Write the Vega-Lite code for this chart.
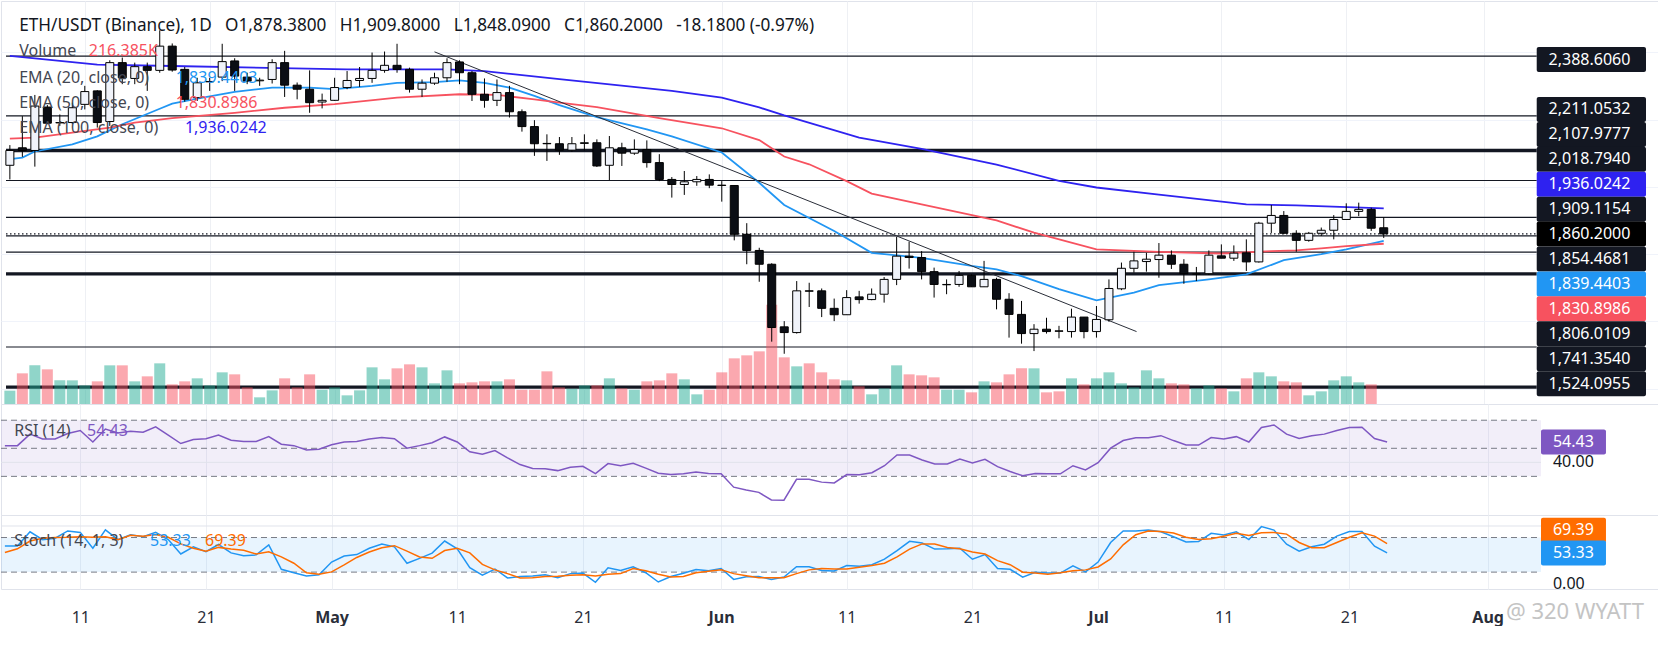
{
  "$schema": "https://vega.github.io/schema/vega-lite/v6.json",
  "background": "white",
  "padding": 0,
  "spacing": 0,
  "bounds": "flush",
  "resolve": {"scale": {"x": "independent", "y": "independent"}},
  "config": {
    "font": "Noto Sans",
    "view": {"stroke": "#E0E3EB"},
    "axis": {"gridColor": "#EEF0F4", "domain": false, "ticks": false, "title": null, "minExtent": 0}
  },
  "datasets": {
    "bars": [
      {"t":"2023-04-05","o":2064,"h":2124,"l":2022,"c":2108,"v":350,"rsi":51.9,"sk":65.4,"sd":53.9},
      {"t":"2023-04-06","o":2116,"h":2210,"l":2089,"c":2108,"v":523,"rsi":51.9,"sk":65.4,"sd":60.4},
      {"t":"2023-04-07","o":2108,"h":2273,"l":2060,"c":2240,"v":603,"rsi":60.1,"sk":89.9,"sd":73.9},
      {"t":"2023-04-08","o":2237,"h":2243,"l":2186,"c":2189,"v":563,"rsi":56.6,"sk":76.4,"sd":78.9},
      {"t":"2023-04-09","o":2190,"h":2215,"l":2181,"c":2191,"v":453,"rsi":56.6,"sk":78.9,"sd":79.9},
      {"t":"2023-04-10","o":2191,"h":2250,"l":2186,"c":2235,"v":453,"rsi":60.5,"sk":91.4,"sd":80.4},
      {"t":"2023-04-11","o":2245,"h":2300,"l":2230,"c":2283,"v":403,"rsi":62.7,"sk":88.9,"sd":81.4},
      {"t":"2023-04-12","o":2285,"h":2287,"l":2176,"c":2191,"v":443,"rsi":54.5,"sk":61.4,"sd":80.4},
      {"t":"2023-04-13","o":2194,"h":2376,"l":2181,"c":2369,"v":603,"rsi":63.7,"sk":93.4,"sd":81.4},
      {"t":"2023-04-14","o":2369,"h":2384,"l":2305,"c":2324,"v":603,"rsi":60.9,"sk":76.4,"sd":76.4},
      {"t":"2023-04-15","o":2322,"h":2369,"l":2305,"c":2357,"v":443,"rsi":62.2,"sk":84.9,"sd":83.9},
      {"t":"2023-04-16","o":2357,"h":2369,"l":2285,"c":2346,"v":493,"rsi":61.4,"sk":81.4,"sd":82.4},
      {"t":"2023-04-17","o":2346,"h":2465,"l":2339,"c":2418,"v":623,"rsi":65.3,"sk":88.9,"sd":85.4},
      {"t":"2023-04-18","o":2418,"h":2426,"l":2342,"c":2347,"v":413,"rsi":59.4,"sk":76.4,"sd":80.4},
      {"t":"2023-04-19","o":2349,"h":2356,"l":2253,"c":2260,"v":443,"rsi":53.4,"sk":51.4,"sd":68.9},
      {"t":"2023-04-20","o":2265,"h":2324,"l":2255,"c":2309,"v":473,"rsi":56.2,"sk":63.9,"sd":61.4},
      {"t":"2023-04-21","o":2312,"h":2324,"l":2285,"c":2313,"v":403,"rsi":56.8,"sk":55.4,"sd":56.4},
      {"t":"2023-04-22","o":2326,"h":2425,"l":2314,"c":2372,"v":533,"rsi":59.4,"sk":67.9,"sd":62.9},
      {"t":"2023-04-23","o":2374,"h":2382,"l":2285,"c":2329,"v":513,"rsi":55.7,"sk":53.4,"sd":59.9},
      {"t":"2023-04-24","o":2326,"h":2339,"l":2305,"c":2314,"v":383,"rsi":54.9,"sk":48.4,"sd":57.9},
      {"t":"2023-04-25","o":2315,"h":2324,"l":2300,"c":2317,"v":283,"rsi":54.9,"sk":49.9,"sd":51.4},
      {"t":"2023-04-26","o":2319,"h":2379,"l":2307,"c":2369,"v":353,"rsi":58.3,"sk":67.4,"sd":55.4},
      {"t":"2023-04-27","o":2369,"h":2404,"l":2267,"c":2302,"v":473,"rsi":52.9,"sk":24.9,"sd":46.4},
      {"t":"2023-04-28","o":2302,"h":2310,"l":2260,"c":2290,"v":383,"rsi":51.9,"sk":18.9,"sd":35.4},
      {"t":"2023-04-29","o":2290,"h":2346,"l":2220,"c":2250,"v":513,"rsi":48.8,"sk":13.4,"sd":18.9},
      {"t":"2023-04-30","o":2252,"h":2277,"l":2233,"c":2257,"v":359,"rsi":49.3,"sk":15.4,"sd":16.4},
      {"t":"2023-05-01","o":2257,"h":2324,"l":2255,"c":2295,"v":383,"rsi":52.5,"sk":37.4,"sd":20.4},
      {"t":"2023-05-02","o":2295,"h":2344,"l":2290,"c":2316,"v":303,"rsi":54.5,"sk":47.9,"sd":32.4},
      {"t":"2023-05-03","o":2316,"h":2356,"l":2297,"c":2322,"v":353,"rsi":54.9,"sk":50.4,"sd":45.4},
      {"t":"2023-05-04","o":2322,"h":2399,"l":2309,"c":2346,"v":583,"rsi":56.6,"sk":61.4,"sd":54.9},
      {"t":"2023-05-05","o":2346,"h":2402,"l":2339,"c":2361,"v":463,"rsi":57.7,"sk":68.9,"sd":62.4},
      {"t":"2023-05-06","o":2361,"h":2425,"l":2339,"c":2349,"v":573,"rsi":56.8,"sk":63.9,"sd":65.9},
      {"t":"2023-05-07","o":2349,"h":2354,"l":2280,"c":2290,"v":613,"rsi":50.1,"sk":35.4,"sd":56.4},
      {"t":"2023-05-08","o":2290,"h":2319,"l":2267,"c":2308,"v":583,"rsi":51.9,"sk":43.9,"sd":46.4},
      {"t":"2023-05-09","o":2308,"h":2339,"l":2303,"c":2324,"v":423,"rsi":54.0,"sk":52.9,"sd":43.9},
      {"t":"2023-05-10","o":2324,"h":2382,"l":2312,"c":2369,"v":553,"rsi":58.1,"sk":73.9,"sd":57.4},
      {"t":"2023-05-11","o":2371,"h":2376,"l":2305,"c":2339,"v":423,"rsi":54.5,"sk":60.4,"sd":61.4},
      {"t":"2023-05-12","o":2339,"h":2344,"l":2255,"c":2275,"v":433,"rsi":47.5,"sk":27.9,"sd":53.4},
      {"t":"2023-05-13","o":2275,"h":2322,"l":2235,"c":2257,"v":443,"rsi":45.8,"sk":14.9,"sd":33.4},
      {"t":"2023-05-14","o":2257,"h":2319,"l":2240,"c":2280,"v":443,"rsi":48.4,"sk":25.4,"sd":23.9},
      {"t":"2023-05-15","o":2280,"h":2300,"l":2206,"c":2223,"v":463,"rsi":43.2,"sk":9.9,"sd":17.4},
      {"t":"2023-05-16","o":2223,"h":2230,"l":2164,"c":2179,"v":359,"rsi":38.4,"sk":12.4,"sd":9.9},
      {"t":"2023-05-17","o":2179,"h":2198,"l":2092,"c":2128,"v":359,"rsi":35.6,"sk":13.4,"sd":10.4},
      {"t":"2023-05-18","o":2129,"h":2156,"l":2077,"c":2128,"v":543,"rsi":35.4,"sk":15.4,"sd":12.4},
      {"t":"2023-05-19","o":2128,"h":2148,"l":2095,"c":2109,"v":383,"rsi":34.1,"sk":10.4,"sd":12.9},
      {"t":"2023-05-20","o":2109,"h":2148,"l":2104,"c":2128,"v":369,"rsi":36.5,"sk":17.4,"sd":14.4},
      {"t":"2023-05-21","o":2129,"h":2156,"l":2108,"c":2131,"v":403,"rsi":37.2,"sk":18.4,"sd":15.4},
      {"t":"2023-05-22","o":2131,"h":2141,"l":2059,"c":2062,"v":403,"rsi":32.0,"sk":2.4,"sd":13.4},
      {"t":"2023-05-23","o":2064,"h":2151,"l":2020,"c":2116,"v":473,"rsi":39.1,"sk":27.4,"sd":16.4},
      {"t":"2023-05-24","o":2116,"h":2131,"l":2062,"c":2100,"v":373,"rsi":37.6,"sk":22.9,"sd":17.4},
      {"t":"2023-05-25","o":2100,"h":2141,"l":2095,"c":2111,"v":359,"rsi":39.3,"sk":29.4,"sd":26.4},
      {"t":"2023-05-26","o":2111,"h":2138,"l":2057,"c":2072,"v":443,"rsi":35.9,"sk":18.9,"sd":22.4},
      {"t":"2023-05-27","o":2072,"h":2097,"l":2017,"c":2022,"v":453,"rsi":32.2,"sk":2.9,"sd":16.4},
      {"t":"2023-05-28","o":2022,"h":2029,"l":1968,"c":2007,"v":523,"rsi":31.3,"sk":12.4,"sd":11.4},
      {"t":"2023-05-29","o":2007,"h":2047,"l":1976,"c":2015,"v":463,"rsi":31.8,"sk":17.9,"sd":12.4},
      {"t":"2023-05-30","o":2015,"h":2032,"l":2003,"c":2022,"v":313,"rsi":33.1,"sk":24.4,"sd":18.9},
      {"t":"2023-05-31","o":2022,"h":2037,"l":1996,"c":2005,"v":359,"rsi":32.0,"sk":22.4,"sd":21.4},
      {"t":"2023-06-01","o":2005,"h":2017,"l":1956,"c":2004,"v":533,"rsi":31.8,"sk":26.4,"sd":23.9},
      {"t":"2023-06-02","o":2004,"h":2005,"l":1841,"c":1859,"v":673,"rsi":22.3,"sk":7.4,"sd":17.4},
      {"t":"2023-06-03","o":1859,"h":1892,"l":1770,"c":1811,"v":703,"rsi":20.3,"sk":11.9,"sd":13.9},
      {"t":"2023-06-04","o":1811,"h":1819,"l":1718,"c":1770,"v":743,"rsi":18.6,"sk":12.4,"sd":10.4},
      {"t":"2023-06-05","o":1770,"h":1773,"l":1540,"c":1582,"v":1210,"rsi":13.2,"sk":7.4,"sd":10.4},
      {"t":"2023-06-06","o":1584,"h":1601,"l":1504,"c":1567,"v":683,"rsi":13.0,"sk":11.4,"sd":10.4},
      {"t":"2023-06-07","o":1567,"h":1720,"l":1564,"c":1691,"v":593,"rsi":27.9,"sk":29.4,"sd":17.4},
      {"t":"2023-06-08","o":1691,"h":1715,"l":1643,"c":1690,"v":623,"rsi":27.9,"sk":29.4,"sd":23.9},
      {"t":"2023-06-09","o":1691,"h":1698,"l":1613,"c":1639,"v":533,"rsi":25.9,"sk":22.9,"sd":26.4},
      {"t":"2023-06-10","o":1639,"h":1668,"l":1601,"c":1620,"v":463,"rsi":25.3,"sk":21.9,"sd":25.4},
      {"t":"2023-06-11","o":1620,"h":1693,"l":1620,"c":1671,"v":453,"rsi":31.3,"sk":31.4,"sd":25.4},
      {"t":"2023-06-12","o":1673,"h":1691,"l":1653,"c":1665,"v":393,"rsi":31.1,"sk":30.4,"sd":28.4},
      {"t":"2023-06-13","o":1665,"h":1698,"l":1663,"c":1681,"v":313,"rsi":32.6,"sk":32.9,"sd":31.4},
      {"t":"2023-06-14","o":1681,"h":1732,"l":1656,"c":1725,"v":373,"rsi":37.6,"sk":42.4,"sd":35.4},
      {"t":"2023-06-15","o":1725,"h":1851,"l":1708,"c":1794,"v":603,"rsi":45.2,"sk":57.4,"sd":46.4},
      {"t":"2023-06-16","o":1794,"h":1837,"l":1757,"c":1790,"v":513,"rsi":45.2,"sk":73.4,"sd":59.9},
      {"t":"2023-06-17","o":1790,"h":1809,"l":1725,"c":1748,"v":503,"rsi":41.7,"sk":70.4,"sd":68.9},
      {"t":"2023-06-18","o":1748,"h":1760,"l":1671,"c":1710,"v":483,"rsi":38.9,"sk":59.9,"sd":68.9},
      {"t":"2023-06-19","o":1709,"h":1725,"l":1681,"c":1710,"v":359,"rsi":38.9,"sk":60.4,"sd":62.9},
      {"t":"2023-06-20","o":1710,"h":1750,"l":1703,"c":1737,"v":359,"rsi":42.3,"sk":61.4,"sd":60.4},
      {"t":"2023-06-21","o":1737,"h":1740,"l":1703,"c":1703,"v":333,"rsi":39.5,"sk":42.4,"sd":54.9},
      {"t":"2023-06-22","o":1703,"h":1780,"l":1703,"c":1725,"v":443,"rsi":42.1,"sk":50.4,"sd":51.4},
      {"t":"2023-06-23","o":1725,"h":1730,"l":1636,"c":1666,"v":433,"rsi":36.9,"sk":26.4,"sd":39.9},
      {"t":"2023-06-24","o":1666,"h":1684,"l":1552,"c":1621,"v":513,"rsi":33.5,"sk":24.9,"sd":32.9},
      {"t":"2023-06-25","o":1621,"h":1661,"l":1534,"c":1564,"v":573,"rsi":30.4,"sk":11.4,"sd":19.9},
      {"t":"2023-06-26","o":1564,"h":1592,"l":1512,"c":1577,"v":573,"rsi":32.0,"sk":19.9,"sd":18.4},
      {"t":"2023-06-27","o":1577,"h":1611,"l":1564,"c":1570,"v":333,"rsi":31.8,"sk":18.4,"sd":16.4},
      {"t":"2023-06-28","o":1572,"h":1587,"l":1550,"c":1571,"v":343,"rsi":31.8,"sk":18.4,"sd":18.9},
      {"t":"2023-06-29","o":1570,"h":1638,"l":1552,"c":1613,"v":473,"rsi":37.6,"sk":30.9,"sd":22.4},
      {"t":"2023-06-30","o":1613,"h":1613,"l":1550,"c":1570,"v":413,"rsi":34.6,"sk":20.4,"sd":23.9},
      {"t":"2023-07-01","o":1570,"h":1646,"l":1552,"c":1606,"v":473,"rsi":39.7,"sk":37.4,"sd":28.9},
      {"t":"2023-07-02","o":1605,"h":1725,"l":1599,"c":1698,"v":533,"rsi":50.1,"sk":71.4,"sd":42.9},
      {"t":"2023-07-03","o":1697,"h":1775,"l":1693,"c":1758,"v":423,"rsi":55.5,"sk":91.4,"sd":67.4},
      {"t":"2023-07-04","o":1758,"h":1807,"l":1745,"c":1780,"v":383,"rsi":57.5,"sk":91.4,"sd":84.9},
      {"t":"2023-07-05","o":1778,"h":1804,"l":1748,"c":1785,"v":553,"rsi":57.5,"sk":92.9,"sd":91.4},
      {"t":"2023-07-06","o":1784,"h":1833,"l":1730,"c":1797,"v":473,"rsi":59.0,"sk":89.9,"sd":90.4},
      {"t":"2023-07-07","o":1797,"h":1811,"l":1756,"c":1770,"v":423,"rsi":55.5,"sk":81.4,"sd":87.9},
      {"t":"2023-07-08","o":1770,"h":1785,"l":1712,"c":1742,"v":413,"rsi":52.3,"sk":72.4,"sd":80.4},
      {"t":"2023-07-09","o":1741,"h":1762,"l":1720,"c":1742,"v":373,"rsi":52.3,"sk":72.9,"sd":76.4},
      {"t":"2023-07-10","o":1742,"h":1811,"l":1738,"c":1797,"v":403,"rsi":57.7,"sk":87.4,"sd":77.9},
      {"t":"2023-07-11","o":1795,"h":1829,"l":1788,"c":1788,"v":373,"rsi":56.6,"sk":84.4,"sd":82.4},
      {"t":"2023-07-12","o":1788,"h":1826,"l":1780,"c":1803,"v":343,"rsi":58.3,"sk":89.9,"sd":87.4},
      {"t":"2023-07-13","o":1804,"h":1844,"l":1750,"c":1777,"v":473,"rsi":54.5,"sk":76.4,"sd":83.4},
      {"t":"2023-07-14","o":1777,"h":1896,"l":1775,"c":1892,"v":533,"rsi":64.8,"sk":98.9,"sd":88.4},
      {"t":"2023-07-15","o":1892,"h":1946,"l":1863,"c":1915,"v":493,"rsi":66.6,"sk":92.9,"sd":88.9},
      {"t":"2023-07-16","o":1915,"h":1928,"l":1859,"c":1862,"v":443,"rsi":60.1,"sk":68.4,"sd":85.9},
      {"t":"2023-07-17","o":1862,"h":1871,"l":1807,"c":1841,"v":433,"rsi":57.0,"sk":56.4,"sd":71.4},
      {"t":"2023-07-18","o":1841,"h":1866,"l":1837,"c":1862,"v":303,"rsi":59.0,"sk":63.9,"sd":62.4},
      {"t":"2023-07-19","o":1862,"h":1879,"l":1854,"c":1871,"v":343,"rsi":60.1,"sk":68.4,"sd":62.4},
      {"t":"2023-07-20","o":1871,"h":1916,"l":1844,"c":1903,"v":453,"rsi":62.7,"sk":82.4,"sd":71.4},
      {"t":"2023-07-21","o":1903,"h":1951,"l":1903,"c":1927,"v":493,"rsi":64.8,"sk":90.4,"sd":80.4},
      {"t":"2023-07-22","o":1927,"h":1953,"l":1913,"c":1933,"v":433,"rsi":65.0,"sk":90.4,"sd":88.4},
      {"t":"2023-07-23","o":1933,"h":1938,"l":1869,"c":1877,"v":413,"rsi":57.0,"sk":64.9,"sd":82.4},
      {"t":"2023-07-24","o":1878.38,"h":1909.8,"l":1848.09,"c":1860.2,"v":216.385,"rsi":54.43,"sk":53.33,"sd":69.39}
    ],
    "ema": [
      {"t":"2023-04-05","e":"e100","v":2389},{"t":"2023-04-12","e":"e100","v":2363},{"t":"2023-04-18","e":"e100","v":2359},
      {"t":"2023-05-02","e":"e100","v":2349},{"t":"2023-05-10","e":"e100","v":2349},{"t":"2023-05-13","e":"e100","v":2344},
      {"t":"2023-05-19","e":"e100","v":2320},{"t":"2023-05-28","e":"e100","v":2285},{"t":"2023-06-01","e":"e100","v":2265},
      {"t":"2023-06-04","e":"e100","v":2236},{"t":"2023-06-06","e":"e100","v":2212},{"t":"2023-06-12","e":"e100","v":2146},
      {"t":"2023-06-17","e":"e100","v":2113},{"t":"2023-06-23","e":"e100","v":2066},{"t":"2023-06-28","e":"e100","v":2018},
      {"t":"2023-07-01","e":"e100","v":1998},{"t":"2023-07-06","e":"e100","v":1977},{"t":"2023-07-13","e":"e100","v":1948},
      {"t":"2023-07-17","e":"e100","v":1945},{"t":"2023-07-24","e":"e100","v":1936.02},
      {"t":"2023-04-05","e":"e20","v":2082},{"t":"2023-04-06","e":"e20","v":2087},{"t":"2023-04-07","e":"e20","v":2105},
      {"t":"2023-04-10","e":"e20","v":2126},{"t":"2023-04-12","e":"e20","v":2150},{"t":"2023-04-14","e":"e20","v":2186},
      {"t":"2023-04-17","e":"e20","v":2232},{"t":"2023-04-18","e":"e20","v":2247},{"t":"2023-04-20","e":"e20","v":2262},
      {"t":"2023-04-23","e":"e20","v":2282},{"t":"2023-04-26","e":"e20","v":2295},{"t":"2023-04-29","e":"e20","v":2295},
      {"t":"2023-05-01","e":"e20","v":2290},{"t":"2023-05-04","e":"e20","v":2300},{"t":"2023-05-06","e":"e20","v":2309},
      {"t":"2023-05-09","e":"e20","v":2311},{"t":"2023-05-11","e":"e20","v":2316},{"t":"2023-05-13","e":"e20","v":2309},
      {"t":"2023-05-15","e":"e20","v":2295},{"t":"2023-05-17","e":"e20","v":2270},{"t":"2023-05-19","e":"e20","v":2243},
      {"t":"2023-05-22","e":"e20","v":2207},{"t":"2023-05-26","e":"e20","v":2171},{"t":"2023-05-28","e":"e20","v":2150},
      {"t":"2023-06-01","e":"e20","v":2102},{"t":"2023-06-04","e":"e20","v":2012},{"t":"2023-06-06","e":"e20","v":1946},
      {"t":"2023-06-10","e":"e20","v":1869},{"t":"2023-06-13","e":"e20","v":1804},{"t":"2023-06-17","e":"e20","v":1789},
      {"t":"2023-06-21","e":"e20","v":1765},{"t":"2023-06-23","e":"e20","v":1755},{"t":"2023-06-25","e":"e20","v":1735},
      {"t":"2023-06-28","e":"e20","v":1696},{"t":"2023-07-01","e":"e20","v":1663},{"t":"2023-07-04","e":"e20","v":1686},
      {"t":"2023-07-06","e":"e20","v":1708},{"t":"2023-07-10","e":"e20","v":1725},{"t":"2023-07-13","e":"e20","v":1740},
      {"t":"2023-07-16","e":"e20","v":1782},{"t":"2023-07-19","e":"e20","v":1800},{"t":"2023-07-21","e":"e20","v":1814},
      {"t":"2023-07-24","e":"e20","v":1839.44},
      {"t":"2023-04-05","e":"e50","v":2143},{"t":"2023-04-07","e":"e50","v":2146},{"t":"2023-04-10","e":"e50","v":2161},
      {"t":"2023-04-13","e":"e50","v":2176},{"t":"2023-04-15","e":"e50","v":2191},{"t":"2023-04-18","e":"e50","v":2204},
      {"t":"2023-04-23","e":"e50","v":2220},{"t":"2023-04-27","e":"e50","v":2235},{"t":"2023-05-01","e":"e50","v":2246},
      {"t":"2023-05-06","e":"e50","v":2265},{"t":"2023-05-11","e":"e50","v":2275},{"t":"2023-05-14","e":"e50","v":2273},
      {"t":"2023-05-17","e":"e50","v":2260},{"t":"2023-05-19","e":"e50","v":2250},{"t":"2023-05-22","e":"e50","v":2237},
      {"t":"2023-05-27","e":"e50","v":2204},{"t":"2023-06-01","e":"e50","v":2174},{"t":"2023-06-04","e":"e50","v":2139},
      {"t":"2023-06-06","e":"e50","v":2090},{"t":"2023-06-08","e":"e50","v":2067},{"t":"2023-06-11","e":"e50","v":2017},
      {"t":"2023-06-13","e":"e50","v":1980},{"t":"2023-06-17","e":"e50","v":1948},{"t":"2023-06-23","e":"e50","v":1900},
      {"t":"2023-06-26","e":"e50","v":1864},{"t":"2023-07-01","e":"e50","v":1814},{"t":"2023-07-06","e":"e50","v":1807},
      {"t":"2023-07-11","e":"e50","v":1802},{"t":"2023-07-15","e":"e50","v":1809},{"t":"2023-07-17","e":"e50","v":1811},
      {"t":"2023-07-19","e":"e50","v":1817},{"t":"2023-07-21","e":"e50","v":1824},{"t":"2023-07-24","e":"e50","v":1830.9}
    ],
    "levels": [
      {"p":2388.606,"k":"thin"},{"p":2211.0532,"k":"thin"},{"p":2107.9777,"k":"thick"},
      {"p":2018.794,"k":"thin"},{"p":1909.1154,"k":"thin"},{"p":1854.4681,"k":"thin"},
      {"p":1806.0109,"k":"thin"},{"p":1741.354,"k":"thick"},{"p":1524.0955,"k":"thin"},
      {"p":1405,"k":"thick"}
    ],
    "trend": [
      {"t":"2023-05-09","p":2401},
      {"t":"2023-07-04T05:00:00Z","p":1570}
    ],
    "plabels": [
      {"label":"2,388.6060","slot":-1,"kind":"level"},
      {"label":"2,211.0532","slot":1,"kind":"level"},
      {"label":"2,107.9777","slot":2,"kind":"level"},
      {"label":"2,018.7940","slot":3,"kind":"level"},
      {"label":"1,936.0242","slot":4,"kind":"ema100"},
      {"label":"1,909.1154","slot":5,"kind":"level"},
      {"label":"1,860.2000","slot":6,"kind":"last"},
      {"label":"1,854.4681","slot":7,"kind":"level"},
      {"label":"1,839.4403","slot":8,"kind":"ema20"},
      {"label":"1,830.8986","slot":9,"kind":"ema50"},
      {"label":"1,806.0109","slot":10,"kind":"level"},
      {"label":"1,741.3540","slot":11,"kind":"level"},
      {"label":"1,524.0955","slot":12,"kind":"level"}
    ]
  },
  "vconcat": [
    {
      "width": 1658,
      "height": 403,
      "resolve": {"scale": {"y": "independent"}},
      "layer": [
        {
          "data": {"name": "levels"},
          "layer": [
            {
              "mark": {"type": "rule", "color": "#131722"},
              "encoding": {
                "x": {"datum": {"year":2023,"month":4,"date":4,"hours":16,"minutes":34,"utc":true}, "type": "temporal",
                  "scale": {"type": "utc", "nice": false, "domain": [{"year":2023,"month":4,"date":4,"hours":16,"minutes":34,"utc":true},{"year":2023,"month":8,"date":14,"hours":15,"minutes":22,"utc":true}]},
                  "axis": {"labels": false, "grid": true, "values": [
                    {"year":2023,"month":4,"date":11,"utc":true},{"year":2023,"month":4,"date":21,"utc":true},
                    {"year":2023,"month":5,"date":1,"utc":true},{"year":2023,"month":5,"date":11,"utc":true},
                    {"year":2023,"month":5,"date":21,"utc":true},{"year":2023,"month":6,"date":1,"utc":true},
                    {"year":2023,"month":6,"date":11,"utc":true},{"year":2023,"month":6,"date":21,"utc":true},
                    {"year":2023,"month":7,"date":1,"utc":true},{"year":2023,"month":7,"date":11,"utc":true},
                    {"year":2023,"month":7,"date":21,"utc":true},{"year":2023,"month":8,"date":1,"utc":true}]}},
                "x2": {"datum": {"year":2023,"month":8,"date":5,"hours":6,"utc":true}},
                "y": {"field": "p", "type": "quantitative",
                  "scale": {"domain": [1354.8, 2552.1], "nice": false, "zero": false},
                  "axis": {"labels": false, "grid": true, "gridColor": "#F0F3FA", "values": [1400, 1600, 1800, 2000, 2200, 2400]}},
                "strokeWidth": {"field": "k", "type": "nominal", "scale": {"domain": ["thin", "thick"], "range": [1.2, 3.4]}, "legend": null}
              }
            },
            {
              "data": {"values": [{}]},
              "mark": {"type": "rule", "color": "#131722", "strokeDash": [1.5, 2.5], "strokeWidth": 1.2},
              "encoding": {
                "x": {"datum": {"year":2023,"month":4,"date":4,"hours":16,"minutes":34,"utc":true}, "type": "temporal"},
                "x2": {"datum": {"year":2023,"month":8,"date":5,"hours":6,"utc":true}},
                "y": {"datum": 1860.2, "type": "quantitative"}
              }
            }
          ]
        },
        {
          "data": {"name": "bars"},
          "mark": {"type": "bar", "size": 11, "opacity": 0.5},
          "encoding": {
            "x": {"field": "t", "type": "temporal"},
            "y": {"field": "v", "type": "quantitative", "scale": {"domain": [216.385, 4246.4], "nice": false, "zero": false}, "axis": null},
            "y2": {"datum": 216.385},
            "fill": {"condition": {"test": "datum.c >= datum.o", "value": "#22AB94"}, "value": "#F7525F"}
          }
        },
        {
          "layer": [
            {
              "data": {"name": "ema"},
              "mark": {"type": "line", "strokeWidth": 1.8},
              "encoding": {
                "x": {"field": "t", "type": "temporal"},
                "y": {"field": "v", "type": "quantitative", "scale": {"domain": [1354.8, 2552.1], "nice": false, "zero": false}, "axis": null},
                "color": {"field": "e", "type": "nominal", "scale": {"domain": ["e20", "e50", "e100"], "range": ["#2196F3", "#F7525F", "#2E22F0"]}, "legend": null}
              }
            },
            {
              "data": {"name": "trend"},
              "mark": {"type": "line", "color": "#2A2E39", "strokeWidth": 1},
              "encoding": {
                "x": {"field": "t", "type": "temporal"},
                "y": {"field": "p", "type": "quantitative", "axis": null}
              }
            },
            {
              "data": {"name": "bars"},
              "mark": {"type": "rule", "color": "#000000", "strokeWidth": 1},
              "encoding": {
                "x": {"field": "t", "type": "temporal"},
                "y": {"field": "l", "type": "quantitative", "axis": null},
                "y2": {"field": "h"}
              }
            },
            {
              "data": {"name": "bars"},
              "mark": {"type": "bar", "size": 8, "stroke": "#000000", "strokeWidth": 1},
              "encoding": {
                "x": {"field": "t", "type": "temporal"},
                "y": {"field": "o", "type": "quantitative", "axis": null},
                "y2": {"field": "c"},
                "fill": {"condition": {"test": "datum.c >= datum.o", "value": "#F0F3FA"}, "value": "#0B0E14"}
              }
            },
            {
              "data": {"values": [{}]},
              "mark": {"type": "text", "align": "left", "baseline": "middle", "fontSize": 17.2, "color": "#131722"},
              "encoding": {
                "x": {"datum": {"year":2023,"month":4,"date":5,"hours":17,"minutes":56,"utc":true}, "type": "temporal"},
                "y": {"datum": 2477.9, "type": "quantitative", "axis": null},
                "text": {"value": "ETH/USDT (Binance), 1D \u00a0 O1,878.3800 \u00a0 H1,909.8000 \u00a0 L1,848.0900 \u00a0 C1,860.2000 \u00a0 -18.1800 (-0.97%)"}
              }
            },
            {
              "data": {"values": [{}]},
              "mark": {"type": "text", "align": "left", "baseline": "middle", "fontSize": 16, "color": "#434651"},
              "encoding": {
                "x": {"datum": {"year":2023,"month":4,"date":5,"hours":17,"minutes":56,"utc":true}, "type": "temporal"},
                "y": {"datum": 2403.6, "type": "quantitative", "axis": null},
                "text": {"value": "Volume"}
              }
            },
            {
              "data": {"values": [{}]},
              "mark": {"type": "text", "align": "left", "baseline": "middle", "fontSize": 16, "color": "#F7525F"},
              "encoding": {
                "x": {"datum": {"year":2023,"month":4,"date":11,"hours":7,"minutes":38,"utc":true}, "type": "temporal"},
                "y": {"datum": 2403.6, "type": "quantitative", "axis": null},
                "text": {"value": "216.385K"}
              }
            },
            {
              "data": {"values": [{}]},
              "mark": {"type": "text", "align": "left", "baseline": "middle", "fontSize": 16, "color": "#434651"},
              "encoding": {
                "x": {"datum": {"year":2023,"month":4,"date":5,"hours":17,"minutes":56,"utc":true}, "type": "temporal"},
                "y": {"datum": 2324.3, "type": "quantitative", "axis": null},
                "text": {"value": "EMA (20, close, 0)"}
              }
            },
            {
              "data": {"values": [{}]},
              "mark": {"type": "text", "align": "left", "baseline": "middle", "fontSize": 16, "color": "#2196F3"},
              "encoding": {
                "x": {"datum": {"year":2023,"month":4,"date":18,"hours":6,"minutes":35,"utc":true}, "type": "temporal"},
                "y": {"datum": 2324.3, "type": "quantitative", "axis": null},
                "text": {"value": "1,839.4403"}
              }
            },
            {
              "data": {"values": [{}]},
              "mark": {"type": "text", "align": "left", "baseline": "middle", "fontSize": 16, "color": "#434651"},
              "encoding": {
                "x": {"datum": {"year":2023,"month":4,"date":5,"hours":17,"minutes":56,"utc":true}, "type": "temporal"},
                "y": {"datum": 2250.0, "type": "quantitative", "axis": null},
                "text": {"value": "EMA (50, close, 0)"}
              }
            },
            {
              "data": {"values": [{}]},
              "mark": {"type": "text", "align": "left", "baseline": "middle", "fontSize": 16, "color": "#F7525F"},
              "encoding": {
                "x": {"datum": {"year":2023,"month":4,"date":18,"hours":6,"minutes":35,"utc":true}, "type": "temporal"},
                "y": {"datum": 2250.0, "type": "quantitative", "axis": null},
                "text": {"value": "1,830.8986"}
              }
            },
            {
              "data": {"values": [{}]},
              "mark": {"type": "text", "align": "left", "baseline": "middle", "fontSize": 16, "color": "#434651"},
              "encoding": {
                "x": {"datum": {"year":2023,"month":4,"date":5,"hours":17,"minutes":56,"utc":true}, "type": "temporal"},
                "y": {"datum": 2175.7, "type": "quantitative", "axis": null},
                "text": {"value": "EMA (100, close, 0)"}
              }
            },
            {
              "data": {"values": [{}]},
              "mark": {"type": "text", "align": "left", "baseline": "middle", "fontSize": 16, "color": "#2E22F0"},
              "encoding": {
                "x": {"datum": {"year":2023,"month":4,"date":19,"hours":0,"minutes":20,"utc":true}, "type": "temporal"},
                "y": {"datum": 2175.7, "type": "quantitative", "axis": null},
                "text": {"value": "1,936.0242"}
              }
            }
          ]
        },
        {
          "data": {"name": "plabels"},
          "layer": [
            {
              "mark": {"type": "bar", "size": 25, "cornerRadius": 2},
              "encoding": {
                "x": {"datum": {"year":2023,"month":8,"date":5,"hours":6,"utc":true}, "type": "temporal"},
                "x2": {"datum": {"year":2023,"month":8,"date":14,"utc":true}},
                "y": {"field": "slot", "type": "quantitative", "scale": {"domain": [-3.151, 12.616], "reverse": true, "nice": false, "zero": false}, "axis": null},
                "fill": {"field": "kind", "type": "nominal", "scale": {"domain": ["level", "last", "ema20", "ema50", "ema100"], "range": ["#131722", "#000000", "#2196F3", "#F7525F", "#2E22F0"]}, "legend": null}
              }
            },
            {
              "mark": {"type": "text", "align": "left", "baseline": "middle", "fontSize": 16, "color": "#FFFFFF"},
              "encoding": {
                "x": {"datum": {"year":2023,"month":8,"date":6,"hours":4,"minutes":48,"utc":true}, "type": "temporal"},
                "y": {"field": "slot", "type": "quantitative", "axis": null},
                "text": {"field": "label"}
              }
            }
          ]
        }
      ]
    },
    {
      "width": 1658,
      "height": 111,
      "layer": [
        {
          "data": {"values": [{}]},
          "mark": {"type": "rect", "color": "#7E57C2", "opacity": 0.1},
          "encoding": {
            "x": {"datum": {"year":2023,"month":4,"date":4,"hours":16,"minutes":34,"utc":true}, "type": "temporal",
              "scale": {"type": "utc", "nice": false, "domain": [{"year":2023,"month":4,"date":4,"hours":16,"minutes":34,"utc":true},{"year":2023,"month":8,"date":14,"hours":15,"minutes":22,"utc":true}]},
              "axis": {"labels": false, "grid": true, "values": [
                {"year":2023,"month":4,"date":11,"utc":true},{"year":2023,"month":4,"date":21,"utc":true},
                {"year":2023,"month":5,"date":1,"utc":true},{"year":2023,"month":5,"date":11,"utc":true},
                {"year":2023,"month":5,"date":21,"utc":true},{"year":2023,"month":6,"date":1,"utc":true},
                {"year":2023,"month":6,"date":11,"utc":true},{"year":2023,"month":6,"date":21,"utc":true},
                {"year":2023,"month":7,"date":1,"utc":true},{"year":2023,"month":7,"date":11,"utc":true},
                {"year":2023,"month":7,"date":21,"utc":true},{"year":2023,"month":8,"date":1,"utc":true}]}},
            "x2": {"datum": {"year":2023,"month":8,"date":5,"hours":6,"utc":true}},
            "y": {"datum": 70, "type": "quantitative", "scale": {"domain": [6.04, 78.0], "nice": false, "zero": false}, "axis": null},
            "y2": {"datum": 30}
          }
        },
        {
          "data": {"values": [{}]},
          "mark": {"type": "rule", "color": "#E0E3EB"},
          "encoding": {
            "x": {"datum": {"year":2023,"month":4,"date":4,"hours":16,"minutes":34,"utc":true}, "type": "temporal"},
            "x2": {"datum": {"year":2023,"month":8,"date":5,"hours":6,"utc":true}},
            "y": {"datum": 40, "type": "quantitative"}
          }
        },
        {
          "data": {"values": [{"lvl": 70}, {"lvl": 50}, {"lvl": 30}]},
          "mark": {"type": "rule", "color": "#787B86", "strokeDash": [6, 4]},
          "encoding": {
            "x": {"datum": {"year":2023,"month":4,"date":4,"hours":16,"minutes":34,"utc":true}, "type": "temporal"},
            "x2": {"datum": {"year":2023,"month":8,"date":5,"hours":6,"utc":true}},
            "y": {"field": "lvl", "type": "quantitative"}
          }
        },
        {
          "data": {"name": "bars"},
          "mark": {"type": "line", "color": "#7E57C2", "strokeWidth": 1.5},
          "encoding": {
            "x": {"field": "t", "type": "temporal"},
            "y": {"field": "rsi", "type": "quantitative"}
          }
        },
        {
          "data": {"values": [{}]},
          "mark": {"type": "bar", "size": 25, "cornerRadius": 2, "color": "#7E57C2"},
          "encoding": {
            "x": {"datum": {"year":2023,"month":8,"date":5,"hours":6,"utc":true}, "type": "temporal"},
            "x2": {"datum": {"year":2023,"month":8,"date":10,"hours":10,"minutes":5,"utc":true}},
            "y": {"datum": 54.43, "type": "quantitative"}
          }
        },
        {
          "data": {"values": [{}]},
          "mark": {"type": "text", "align": "left", "baseline": "middle", "fontSize": 16, "color": "#FFFFFF"},
          "encoding": {
            "x": {"datum": {"year":2023,"month":8,"date":6,"hours":4,"minutes":48,"utc":true}, "type": "temporal"},
            "y": {"datum": 54.43, "type": "quantitative"},
            "text": {"value": "54.43"}
          }
        },
        {
          "data": {"values": [{}]},
          "mark": {"type": "text", "align": "left", "baseline": "middle", "fontSize": 16, "color": "#131722"},
          "encoding": {
            "x": {"datum": {"year":2023,"month":8,"date":6,"hours":4,"minutes":48,"utc":true}, "type": "temporal"},
            "y": {"datum": 40, "type": "quantitative"},
            "text": {"value": "40.00"}
          }
        },
        {
          "data": {"values": [{}]},
          "mark": {"type": "text", "align": "left", "baseline": "middle", "fontSize": 16, "color": "#434651"},
          "encoding": {
            "x": {"datum": {"year":2023,"month":4,"date":5,"hours":17,"minutes":56,"utc":true}, "type": "temporal"},
            "y": {"datum": 62.25, "type": "quantitative"},
            "text": {"value": "RSI (14)"}
          }
        },
        {
          "data": {"values": [{}]},
          "mark": {"type": "text", "align": "left", "baseline": "middle", "fontSize": 16, "color": "#7E57C2"},
          "encoding": {
            "x": {"datum": {"year":2023,"month":4,"date":11,"hours":12,"minutes":48,"utc":true}, "type": "temporal"},
            "y": {"datum": 62.25, "type": "quantitative"},
            "text": {"value": "54.43"}
          }
        }
      ]
    },
    {
      "width": 1658,
      "height": 74,
      "layer": [
        {
          "data": {"values": [{}]},
          "mark": {"type": "rect", "color": "#2196F3", "opacity": 0.1},
          "encoding": {
            "x": {"datum": {"year":2023,"month":4,"date":4,"hours":16,"minutes":34,"utc":true}, "type": "temporal",
              "scale": {"type": "utc", "nice": false, "domain": [{"year":2023,"month":4,"date":4,"hours":16,"minutes":34,"utc":true},{"year":2023,"month":8,"date":14,"hours":15,"minutes":22,"utc":true}]},
              "axis": {"grid": true, "labelFontSize": 16, "labelColor": "#2A2E39", "labelPadding": 20, "labelFlush": false, "labelOverlap": false,
                "labelExpr": "utcdate(datum.value) == 1 ? utcFormat(datum.value, '%b') : utcFormat(datum.value, '%-d')",
                "labelFontWeight": {"condition": {"test": "utcdate(datum.value) == 1", "value": "bold"}, "value": "normal"},
                "values": [
                {"year":2023,"month":4,"date":11,"utc":true},{"year":2023,"month":4,"date":21,"utc":true},
                {"year":2023,"month":5,"date":1,"utc":true},{"year":2023,"month":5,"date":11,"utc":true},
                {"year":2023,"month":5,"date":21,"utc":true},{"year":2023,"month":6,"date":1,"utc":true},
                {"year":2023,"month":6,"date":11,"utc":true},{"year":2023,"month":6,"date":21,"utc":true},
                {"year":2023,"month":7,"date":1,"utc":true},{"year":2023,"month":7,"date":11,"utc":true},
                {"year":2023,"month":7,"date":21,"utc":true},{"year":2023,"month":8,"date":1,"utc":true}]}},
            "x2": {"datum": {"year":2023,"month":8,"date":5,"hours":6,"utc":true}},
            "y": {"datum": 80, "type": "quantitative", "scale": {"domain": [-0.6, 110.4], "nice": false, "zero": false}, "axis": null},
            "y2": {"datum": 20}
          }
        },
        {
          "data": {"values": [{}]},
          "mark": {"type": "rule", "color": "#E0E3EB"},
          "encoding": {
            "x": {"datum": {"year":2023,"month":4,"date":4,"hours":16,"minutes":34,"utc":true}, "type": "temporal"},
            "x2": {"datum": {"year":2023,"month":8,"date":5,"hours":6,"utc":true}},
            "y": {"datum": 100, "type": "quantitative"}
          }
        },
        {
          "data": {"values": [{"lvl": 80}, {"lvl": 20}]},
          "mark": {"type": "rule", "color": "#787B86", "strokeDash": [6, 4]},
          "encoding": {
            "x": {"datum": {"year":2023,"month":4,"date":4,"hours":16,"minutes":34,"utc":true}, "type": "temporal"},
            "x2": {"datum": {"year":2023,"month":8,"date":5,"hours":6,"utc":true}},
            "y": {"field": "lvl", "type": "quantitative"}
          }
        },
        {
          "data": {"name": "bars"},
          "mark": {"type": "line", "color": "#2196F3", "strokeWidth": 1.5},
          "encoding": {
            "x": {"field": "t", "type": "temporal"},
            "y": {"field": "sk", "type": "quantitative"}
          }
        },
        {
          "data": {"name": "bars"},
          "mark": {"type": "line", "color": "#FF6D00", "strokeWidth": 1.5},
          "encoding": {
            "x": {"field": "t", "type": "temporal"},
            "y": {"field": "sd", "type": "quantitative"}
          }
        },
        {
          "data": {"values": [{}]},
          "mark": {"type": "bar", "size": 25, "cornerRadius": 2, "color": "#FF6D00", "yOffset": -13.3},
          "encoding": {
            "x": {"datum": {"year":2023,"month":8,"date":5,"hours":6,"utc":true}, "type": "temporal"},
            "x2": {"datum": {"year":2023,"month":8,"date":10,"hours":10,"minutes":5,"utc":true}},
            "y": {"datum": 69.39, "type": "quantitative"}
          }
        },
        {
          "data": {"values": [{}]},
          "mark": {"type": "bar", "size": 25, "cornerRadius": 2, "color": "#2196F3"},
          "encoding": {
            "x": {"datum": {"year":2023,"month":8,"date":5,"hours":6,"utc":true}, "type": "temporal"},
            "x2": {"datum": {"year":2023,"month":8,"date":10,"hours":10,"minutes":5,"utc":true}},
            "y": {"datum": 53.33, "type": "quantitative"}
          }
        },
        {
          "data": {"values": [{}]},
          "mark": {"type": "text", "align": "left", "baseline": "middle", "fontSize": 16, "color": "#FFFFFF", "yOffset": -13.3},
          "encoding": {
            "x": {"datum": {"year":2023,"month":8,"date":6,"hours":4,"minutes":48,"utc":true}, "type": "temporal"},
            "y": {"datum": 69.39, "type": "quantitative"},
            "text": {"value": "69.39"}
          }
        },
        {
          "data": {"values": [{}]},
          "mark": {"type": "text", "align": "left", "baseline": "middle", "fontSize": 16, "color": "#FFFFFF"},
          "encoding": {
            "x": {"datum": {"year":2023,"month":8,"date":6,"hours":4,"minutes":48,"utc":true}, "type": "temporal"},
            "y": {"datum": 53.33, "type": "quantitative"},
            "text": {"value": "53.33"}
          }
        },
        {
          "data": {"values": [{}]},
          "mark": {"type": "text", "align": "left", "baseline": "middle", "fontSize": 16, "color": "#131722"},
          "encoding": {
            "x": {"datum": {"year":2023,"month":8,"date":6,"hours":4,"minutes":48,"utc":true}, "type": "temporal"},
            "y": {"datum": 0, "type": "quantitative"},
            "text": {"value": "0.00"}
          }
        },
        {
          "data": {"values": [{}]},
          "mark": {"type": "text", "align": "left", "baseline": "middle", "fontSize": 16, "color": "#434651"},
          "encoding": {
            "x": {"datum": {"year":2023,"month":4,"date":5,"hours":17,"minutes":56,"utc":true}, "type": "temporal"},
            "y": {"datum": 73.95, "type": "quantitative"},
            "text": {"value": "Stoch (14, 1, 3)"}
          }
        },
        {
          "data": {"values": [{}]},
          "mark": {"type": "text", "align": "left", "baseline": "middle", "fontSize": 16, "color": "#2196F3"},
          "encoding": {
            "x": {"datum": {"year":2023,"month":4,"date":16,"hours":13,"minutes":8,"utc":true}, "type": "temporal"},
            "y": {"datum": 73.95, "type": "quantitative"},
            "text": {"value": "53.33"}
          }
        },
        {
          "data": {"values": [{}]},
          "mark": {"type": "text", "align": "left", "baseline": "middle", "fontSize": 16, "color": "#FF6D00"},
          "encoding": {
            "x": {"datum": {"year":2023,"month":4,"date":20,"hours":22,"minutes":11,"utc":true}, "type": "temporal"},
            "y": {"datum": 73.95, "type": "quantitative"},
            "text": {"value": "69.39"}
          }
        },
        {
          "data": {"values": [{}]},
          "mark": {"type": "text", "align": "left", "baseline": "middle", "fontSize": 22, "color": "#C4C4C4"},
          "encoding": {
            "x": {"datum": {"year":2023,"month":8,"date":2,"hours":11,"minutes":2,"utc":true}, "type": "temporal"},
            "y": {"datum": -48.6, "type": "quantitative"},
            "text": {"value": "@ 320 WYATT"}
          }
        }
      ]
    }
  ]
}
